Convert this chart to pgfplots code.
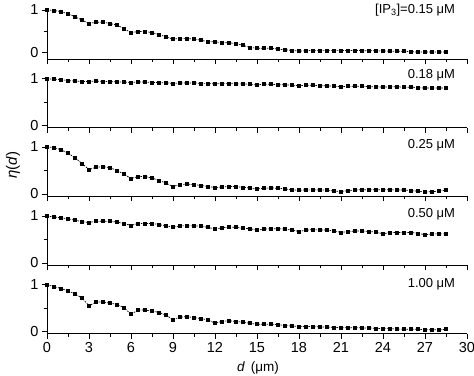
\documentclass[border=0pt]{standalone}
\usepackage{fontspec}
\setmainfont{Liberation Sans}
\usepackage{pgfplots}
\usepackage{pgfplotstable}
\pgfplotsset{compat=1.18}

\pgfplotstableread{
x y
0 1.00
0.5 0.99
1 0.96
1.5 0.91
2 0.84
2.5 0.76
3 0.68
3.5 0.71
4 0.71
4.5 0.68
5 0.64
5.5 0.56
6 0.46
6.5 0.49
7 0.49
7.5 0.46
8 0.42
8.5 0.36
9 0.31
9.5 0.32
10 0.32
10.5 0.31
11 0.28
11.5 0.25
12 0.24
12.5 0.23
13 0.22
13.5 0.20
14 0.16
14.5 0.11
15 0.09
15.5 0.09
16 0.09
16.5 0.07
17 0.055
17.5 0.04
18 0.025
18.5 0.03
19 0.04
19.5 0.04
20 0.04
20.5 0.04
21 0.04
21.5 0.035
22 0.035
22.5 0.035
23 0.03
23.5 0.03
24 0.025
24.5 0.02
25 0.02
25.5 0.02
26 0.01
26.5 0.00
27 0.00
27.5 0.00
28 0.00
28.5 0.00
}\dataA

\pgfplotstableread{
x y
0 1.00
0.5 0.99
1 0.98
1.5 0.96
2 0.95
2.5 0.94
3 0.94
3.5 0.95
4 0.94
4.5 0.94
5 0.93
5.5 0.93
6 0.92
6.5 0.93
7 0.93
7.5 0.92
8 0.92
8.5 0.91
9 0.90
9.5 0.91
10 0.91
10.5 0.91
11 0.90
11.5 0.90
12 0.89
12.5 0.90
13 0.90
13.5 0.89
14 0.89
14.5 0.88
15 0.87
15.5 0.88
16 0.88
16.5 0.87
17 0.87
17.5 0.86
18 0.85
18.5 0.86
19 0.86
19.5 0.85
20 0.85
20.5 0.84
21 0.83
21.5 0.84
22 0.84
22.5 0.84
23 0.83
23.5 0.83
24 0.82
24.5 0.83
25 0.83
25.5 0.82
26 0.82
26.5 0.81
27 0.80
27.5 0.80
28 0.80
28.5 0.80
}\dataB

\pgfplotstableread{
x y
0 1.00
0.5 0.99
1 0.94
1.5 0.87
2 0.77
2.5 0.65
3 0.52
3.5 0.57
4 0.58
4.5 0.56
5 0.50
5.5 0.42
6 0.33
6.5 0.37
7 0.37
7.5 0.34
8 0.29
8.5 0.23
9 0.16
9.5 0.20
10 0.21
10.5 0.20
11 0.18
11.5 0.16
12 0.135
12.5 0.15
13 0.16
13.5 0.16
14 0.14
14.5 0.13
15 0.11
15.5 0.12
16 0.13
16.5 0.12
17 0.11
17.5 0.09
18 0.08
18.5 0.085
19 0.09
19.5 0.085
20 0.08
20.5 0.065
21 0.05
21.5 0.07
22 0.085
22.5 0.09
23 0.09
23.5 0.09
24 0.09
24.5 0.09
25 0.085
25.5 0.085
26 0.07
26.5 0.06
27 0.04
27.5 0.05
28 0.06
28.5 0.08
}\dataC

\pgfplotstableread{
x y
0 1.00
0.5 0.98
1 0.96
1.5 0.94
2 0.91
2.5 0.88
3 0.86
3.5 0.89
4 0.89
4.5 0.89
5 0.87
5.5 0.84
6 0.80
6.5 0.84
7 0.84
7.5 0.84
8 0.82
8.5 0.79
9 0.76
9.5 0.79
10 0.79
10.5 0.79
11 0.78
11.5 0.76
12 0.72
12.5 0.75
13 0.76
13.5 0.76
14 0.74
14.5 0.73
15 0.70
15.5 0.72
16 0.73
16.5 0.73
17 0.72
17.5 0.70
18 0.67
18.5 0.70
19 0.71
19.5 0.70
20 0.70
20.5 0.68
21 0.65
21.5 0.67
22 0.68
22.5 0.68
23 0.67
23.5 0.66
24 0.62
24.5 0.65
25 0.65
25.5 0.65
26 0.65
26.5 0.63
27 0.60
27.5 0.62
28 0.62
28.5 0.62
}\dataD

\pgfplotstableread{
x y
0 1.00
0.5 0.96
1 0.92
1.5 0.87
2 0.80
2.5 0.72
3 0.55
3.5 0.63
4 0.63
4.5 0.61
5 0.58
5.5 0.51
6 0.37
6.5 0.46
7 0.46
7.5 0.44
8 0.41
8.5 0.35
9 0.26
9.5 0.31
10 0.32
10.5 0.30
11 0.28
11.5 0.25
12 0.18
12.5 0.22
13 0.23
13.5 0.22
14 0.20
14.5 0.18
15 0.16
15.5 0.16
16 0.16
16.5 0.15
17 0.13
17.5 0.12
18 0.11
18.5 0.11
19 0.11
19.5 0.10
20 0.10
20.5 0.09
21 0.085
21.5 0.085
22 0.085
22.5 0.08
23 0.08
23.5 0.07
24 0.065
24.5 0.065
25 0.055
25.5 0.055
26 0.05
26.5 0.05
27 0.04
27.5 0.04
28 0.04
28.5 0.05
}\dataE

\pgfplotsset{
  panel/.style={
    scale only axis,
    width=420pt, height=49pt,
    xmin=0, xmax=30, ymax=1,
    axis x line*=bottom, axis y line*=left,
    axis line style={-, line width=0.9pt},
    tick style={line width=0.9pt, black},
    tick align=outside,
    major tick length=5pt, minor tick length=3pt,
    xtick={0,3,...,30}, minor x tick num=1,
    ytick={0,1}, minor ytick={0.5},
    xticklabels={},
    clip=false,
    anchor=north west,
    tick label style={font=\fontsize{14.5}{16}\selectfont},
    /pgf/number format/assume math mode=true,
  },
  ser/.style={black, line width=0.7pt, dash pattern=on 1.6pt off 1.2pt,
    mark=square*, mark size=1.5pt, mark options={solid}},
}
\newcommand{\lbl}{\fontsize{13}{15}\selectfont}

\begin{document}
\begin{tikzpicture}
\useasboundingbox (0pt,0pt) rectangle (474pt,-375pt);
\begin{axis}[panel, at={(47pt,-10pt)}, ymin=-0.165]
\addplot[ser] table {\dataA};
\node[anchor=east, font=\lbl] at (axis cs:29.4,1.0) {[IP\textsubscript{3}]=0.15 μM};
\end{axis}
\begin{axis}[panel, at={(47pt,-78.7pt)}, ymin=-0.043]
\addplot[ser] table {\dataB};
\node[anchor=east, font=\lbl] at (axis cs:29.4,1.08) {0.18 μM};
\end{axis}
\begin{axis}[panel, at={(47pt,-147pt)}, ymin=-0.043]
\addplot[ser] table {\dataC};
\node[anchor=east, font=\lbl] at (axis cs:29.4,1.04) {0.25 μM};
\end{axis}
\begin{axis}[panel, at={(47pt,-216pt)}, ymin=-0.043]
\addplot[ser] table {\dataD};
\node[anchor=east, font=\lbl] at (axis cs:29.4,1.04) {0.50 μM};
\end{axis}
\begin{axis}[panel, at={(47pt,-284.7pt)}, ymin=-0.043,
  xticklabels={0,3,6,9,12,15,18,21,24,27,30}]
\addplot[ser] table {\dataE};
\node[anchor=east, font=\lbl] at (axis cs:29.4,1.0) {1.00 μM};
\end{axis}
\node[rotate=90, font=\fontsize{15}{17}\selectfont] at (13pt,-165pt) {\textit{η}(\textit{d})};
\node[font=\fontsize{13.5}{15}\selectfont] at (258pt,-368pt) {\textit{d}\hspace{6pt}(μm)};
\end{tikzpicture}
\end{document}
